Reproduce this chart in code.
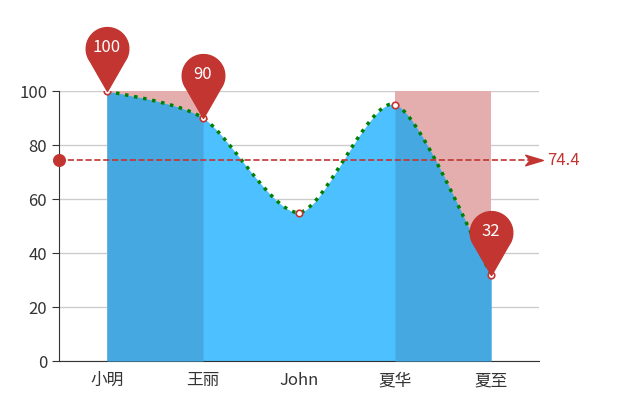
import numpy as np, pandas as pd, seaborn as sns
import matplotlib
matplotlib.use("Agg")
import matplotlib.pyplot as plt
from matplotlib.path import Path

categories = ['小明', '王丽', 'John', '夏华', '夏至']
values = [100, 90, 55, 95, 32]
pins = [0, 1, 4]
areas = [(0, 1), (3, 4)]

sns.set_style("white")
plt.rcParams['font.family'] = ['Noto Sans CJK SC', 'DejaVu Sans']

fig = plt.figure(figsize=(6.41, 4.04), dpi=100)
ax = fig.add_axes([59/641, 43/404, 480/641, 270/404])

x = np.arange(len(values)); y = np.array(values, float)
# Catmull-Rom smoothing
xs, ys = [], []
P = np.column_stack([x, y]); P = np.vstack([P[0], P, P[-1]])
for i in range(1, len(P) - 2):
    p0, p1, p2, p3 = P[i-1], P[i], P[i+1], P[i+2]
    t = np.linspace(0, 1, 60)[:, None]
    m1 = (p2 - p0) / 2 * 0.8; m2 = (p3 - p1) / 2 * 0.8
    h00 = 2*t**3-3*t**2+1; h10 = t**3-2*t**2+t; h01 = -2*t**3+3*t**2; h11 = t**3-t**2
    seg = h00*p1 + h10*m1 + h01*p2 + h11*m2
    xs.extend(seg[:, 0]); ys.extend(seg[:, 1])
xs = np.array(xs); ys = np.array(ys)

for a, b in areas:
    ax.fill_between([a, b], 0, 100, color='#e5aeae', zorder=1, lw=0)
ax.fill_between(xs, 0, ys, color='#4dc1ff', zorder=2, lw=0)
for a, b in areas:
    m = (xs >= a) & (xs <= b)
    ax.fill_between(xs[m], 0, ys[m], color='#45a8e0', zorder=3, lw=0)
sns.lineplot(x=xs, y=ys, ax=ax, color='green', lw=2.5, ls=':', zorder=5, sort=False)
ax.scatter(x, y, s=22, facecolor='white', edgecolor='#c23531', lw=1.2, zorder=6)

avg = float(np.mean(values))
ax.plot([-0.5, 4.45], [avg, avg], color='#c23531', ls='--', lw=1.2, zorder=7, clip_on=False)
ax.scatter([-0.5], [avg], s=70, color='#c23531', zorder=8, clip_on=False)
ax.scatter([4.45], [avg], s=160, marker=Path([(-1, -0.6), (1, 0), (-1, 0.6), (-0.5, 0), (-1, -0.6)],
           [1, 2, 2, 2, 79]), color='#c23531', zorder=8, clip_on=False)
ax.text(4.58, avg, f'{avg:g}', color='#c23531', va='center', ha='left', fontsize=12)

th = np.linspace(-np.pi*0.2, np.pi*1.2, 40)
verts = [(0, 0)] + [(np.cos(t), 2 + np.sin(t)) for t in th] + [(0, 0)]
pin = Path(verts, [1] + [2]*(len(verts)-2) + [79])
for i in pins:
    ax.plot([x[i]], [y[i]], marker=pin, ms=92, color='#c23531', zorder=9, clip_on=False)
    ax.annotate(str(values[i]), (x[i], y[i]), xytext=(0, 31), textcoords='offset points',
                ha='center', va='center', color='white', fontsize=12, zorder=10)

ax.set_xlim(-0.5, 4.5); ax.set_ylim(0, 100)
ax.set_yticks(range(0, 101, 20))
ax.set_xticks(x); ax.set_xticklabels(categories)
ax.set_xticks(np.arange(-0.5, 5, 1), minor=True)
ax.tick_params(axis='x', which='major', length=0, labelsize=12, colors='#333', pad=8)
ax.tick_params(axis='x', which='minor', length=5, color='#333', direction='out')
ax.tick_params(axis='y', length=5, labelsize=12, colors='#333', direction='out', left=True)
ax.grid(axis='y', color='#ccc', lw=1, zorder=0)
ax.set_axisbelow(True)
for s in ['top', 'right']: ax.spines[s].set_visible(False)
for s in ['left', 'bottom']: ax.spines[s].set_color('#333')
fig.savefig('out.png', dpi=100)
